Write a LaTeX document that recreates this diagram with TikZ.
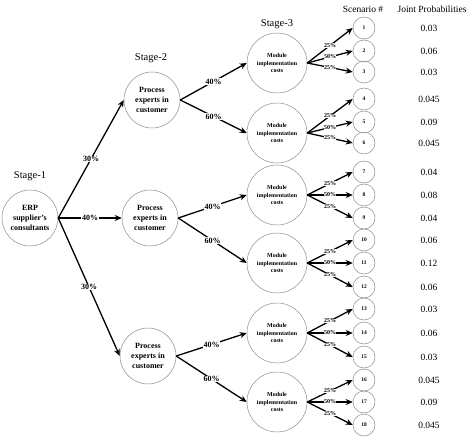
\documentclass[tikz,border=0pt]{standalone}
\usepackage{fontspec}
\setmainfont{Liberation Serif}
\usetikzlibrary{arrows.meta}
\begin{document}
\begin{tikzpicture}[x=1pt,y=-1pt,
 bigc/.style={circle,draw=black!45,line width=0.5pt,minimum size=56pt,inner sep=0pt,align=center,font=\fontsize{8}{10}\selectfont\bfseries},
 modc/.style={circle,draw=black!45,line width=0.5pt,minimum size=60pt,inner sep=0pt,align=center,font=\fontsize{6}{7.5}\selectfont\bfseries},
 scc/.style={circle,draw=black!45,line width=0.5pt,minimum size=22pt,inner sep=0pt,font=\fontsize{5.5}{6}\selectfont\bfseries},
 arr/.style={-{Stealth[length=7pt,width=6pt]},line width=1.3pt},
 pl/.style={fill=white,inner sep=0.6pt,font=\fontsize{8}{9}\selectfont\bfseries},
 spl/.style={fill=white,inner sep=0.3pt,font=\fontsize{6}{7}\selectfont\bfseries},
 hdr/.style={font=\fontsize{9.5}{11}\selectfont},
 stg/.style={font=\fontsize{10.5}{12}\selectfont},
 jp/.style={font=\fontsize{9.5}{11}\selectfont}]
\useasboundingbox (0,0) rectangle (474,441);
% headers
\node[stg] (st1) at (30,176) {Stage-1};
\node[stg] (st2) at (151,58) {Stage-2};
\node[stg] (st3) at (277,24) {Stage-3};
\node[hdr] (hs) at (363,9) {Scenario \#};
\node[hdr] (hj) at (432,9) {Joint Probabilities};
% stage 1
\node[bigc] (s1) at (30,218) {ERP\\supplier's\\consultants};
% stage 2
\node[bigc] (a) at (152,100) {Process\\experts in\\customer};
\node[bigc] (b) at (150,218) {Process\\experts in\\customer};
\node[bigc] (c) at (148,356) {Process\\experts in\\customer};
\draw[arr] (s1.east) -- node[pl]{30\%} (a.west);
\draw[arr] (s1.east) -- node[pl]{40\%} (b.west);
\draw[arr] (s1.east) -- node[pl]{30\%} (c.west);
% stage 3
\node[modc] (m1) at (277,63) {Module\\implementation\\costs};
\node[modc] (m2) at (277,133) {Module\\implementation\\costs};
\node[modc] (m3) at (277,195) {Module\\implementation\\costs};
\node[modc] (m4) at (277,263) {Module\\implementation\\costs};
\node[modc] (m5) at (277,333) {Module\\implementation\\costs};
\node[modc] (m6) at (277,402) {Module\\implementation\\costs};
\draw[arr] (a.east) -- node[pl]{40\%} (m1.west);
\draw[arr] (a.east) -- node[pl]{60\%} (m2.west);
\draw[arr] (b.east) -- node[pl]{40\%} (m3.west);
\draw[arr] (b.east) -- node[pl]{60\%} (m4.west);
\draw[arr] (c.east) -- node[pl]{40\%} (m5.west);
\draw[arr] (c.east) -- node[pl]{60\%} (m6.west);
% scenarios
\foreach \n/\y/\p in {1/28/0.03, 2/51/0.06, 3/72/0.03, 4/99/0.045, 5/122/0.09, 6/143/0.045,
  7/172/0.04, 8/195/0.08, 9/218/0.04, 10/240/0.06, 11/263/0.12, 12/287/0.06,
  13/309/0.03, 14/333/0.06, 15/357/0.03, 16/380/0.045, 17/402/0.09, 18/425/0.045}{
  \node[scc] (sc\n) at (364,\y) {\n};
  \node[jp] (jp\n) at (429,\y) {\p};
}
\foreach \m/\i/\j/\k in {1/1/2/3, 2/4/5/6, 3/7/8/9, 4/10/11/12, 5/13/14/15, 6/16/17/18}{
  \draw[arr] (m\m.east) -- node[spl]{25\%} (sc\i.west);
  \draw[arr] (m\m.east) -- node[spl]{50\%} (sc\j.west);
  \draw[arr] (m\m.east) -- node[spl]{25\%} (sc\k.west);
}
\end{tikzpicture}
\end{document}
